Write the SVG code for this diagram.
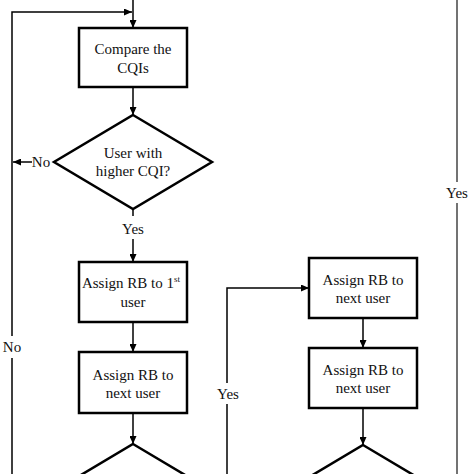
<svg xmlns="http://www.w3.org/2000/svg" width="474" height="474" viewBox="0 0 474 474">
<defs>
<marker id="ah" markerWidth="8" markerHeight="7" refX="8" refY="3.5" orient="auto" markerUnits="userSpaceOnUse">
<path d="M0,0 L8,3.5 L0,7 Z" fill="#000"/>
</marker>
<style>
.box{fill:#fff;stroke:#000;stroke-width:2.5}
.ln{fill:none;stroke:#000;stroke-width:1.5}
.gl{fill:none;stroke:#444;stroke-width:1.5}
.t{font-family:"Liberation Serif","Times New Roman",serif;font-size:15px;fill:#111;text-anchor:middle}
</style>
</defs>
<rect width="474" height="474" fill="#fff"/>
<g id="connectors">
<path class="ln" d="M133,0 V28" marker-end="url(#ah)"/>
<path class="ln" d="M12,474 V12 H132" marker-end="url(#ah)"/>
<path class="ln" d="M133,87 V115" marker-end="url(#ah)"/>
<path class="ln" d="M32,162 H13" marker-end="url(#ah)"/>
<path class="ln" d="M133,209 V216"/>
<path class="ln" d="M133,239 V262" marker-end="url(#ah)"/>
<path class="ln" d="M133,322 V352" marker-end="url(#ah)"/>
<path class="ln" d="M133,413 V444" marker-end="url(#ah)"/>
<path class="ln" d="M227,474 V404"/>
<path class="ln" d="M227,383 V288 H309" marker-end="url(#ah)"/>
<path class="ln" d="M363,318 V348" marker-end="url(#ah)"/>
<path class="ln" d="M363,408 V445" marker-end="url(#ah)"/>
<path class="gl" d="M457,0 V182"/>
<path class="gl" d="M457,203 V474"/>
<rect x="0" y="336" width="24" height="22" fill="#fff"/>
<text class="t" x="12" y="352">No</text>
<text class="t" x="41" y="167">No</text>
<text class="t" x="133" y="234">Yes</text>
<text class="t" x="228" y="399">Yes</text>
<text class="t" x="457" y="198">Yes</text>
</g>
<g id="compare">
<rect class="box" x="79" y="28" width="108" height="59"/>
<text class="t" x="133" y="54">Compare the</text>
<text class="t" x="133" y="73">CQIs</text>
</g>
<g id="decision1">
<polygon class="box" points="133,115 212,162 133,209 54,162"/>
<text class="t" x="133" y="158">User with</text>
<text class="t" x="133" y="176">higher CQI?</text>
</g>
<g id="assign1">
<rect class="box" x="79" y="262" width="108" height="60"/>
<text class="t" x="131" y="288">Assign RB to 1<tspan font-size="9" dy="-6">st</tspan></text>
<text class="t" x="133" y="307">user</text>
</g>
<g id="assign2">
<rect class="box" x="79" y="352" width="108" height="61"/>
<text class="t" x="133" y="380">Assign RB to</text>
<text class="t" x="133" y="398">next user</text>
</g>
<g id="decision2">
<polygon class="box" points="133,444 212,491 133,538 54,491"/>
</g>
<g id="assign3">
<rect class="box" x="309" y="258" width="108" height="60"/>
<text class="t" x="363" y="285">Assign RB to</text>
<text class="t" x="363" y="303">next user</text>
</g>
<g id="assign4">
<rect class="box" x="309" y="348" width="108" height="60"/>
<text class="t" x="363" y="375">Assign RB to</text>
<text class="t" x="363" y="393">next user</text>
</g>
<g id="decision3">
<polygon class="box" points="363,445 442,492 363,539 284,492"/>
</g>
</svg>
